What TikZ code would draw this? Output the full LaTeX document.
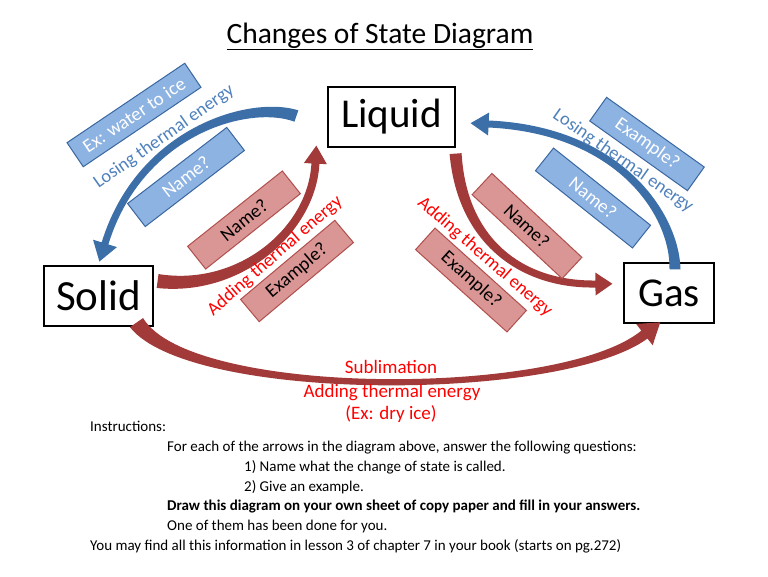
\documentclass[tikz,border=0pt]{standalone}
\usepackage{fontspec}
\setmainfont{Carlito}
\usetikzlibrary{arrows.meta,calc}
\definecolor{bluefill}{HTML}{8DB3E2}
\definecolor{bluebord}{HTML}{3A67A0}
\definecolor{bluetxt}{HTML}{4F81BD}
\definecolor{bluearr}{HTML}{3C6EA8}
\definecolor{redfill}{HTML}{D99694}
\definecolor{redbord}{HTML}{B04F4C}
\definecolor{redarr}{HTML}{A33A3A}
\definecolor{redtxt}{HTML}{FF0000}
\tikzset{
  statebox/.style={draw=black, line width=1.2pt, fill=white, inner sep=0pt, minimum height=60pt, font=\fontsize{41}{44}\selectfont},
  tagbox/.style={line width=1pt, inner sep=0pt, minimum height=29pt, minimum width=123pt, font=\fontsize{19}{20}\selectfont},
  bluebox/.style={tagbox, draw=bluebord, fill=bluefill, text=white},
  redbox/.style={tagbox, draw=redbord, fill=redfill, text=black},
  bluelbl/.style={text=bluetxt, inner sep=0pt, font=\fontsize{18.5}{20}\selectfont},
  redlbl/.style={text=redtxt, inner sep=0pt, font=\fontsize{18.5}{20}\selectfont},
  instr/.style={anchor=base west, inner sep=0pt, font=\fontsize{15}{16}\selectfont},
}
% tapered curved arrow: #1..#4 bezier points (P3 = base of head),
% #5,#6,#7 widths at P0,P1,P2, #8 = width at P3/head width/head length, #9 colour
\def\splitthree#1/#2/#3\relax{\def\tw{#1}\def\hw{#2}\def\hl{#3}}
\newcommand\taperarrow[9]{%
  \splitthree#8\relax
  \pgfmathsetmacro\twa{#5/2}\pgfmathsetmacro\twb{#6/2}\pgfmathsetmacro\twc{#7/2}%
  \pgfmathsetmacro\twd{\tw/2}\pgfmathsetmacro\twh{\hw/2}%
  \coordinate (tq1) at ($(#2)+(#3)-(#1)$);
  \coordinate (tq2) at ($(#3)+(#4)-(#2)$);
  \coordinate (ta) at ($(#1)!\twa pt!90:(#2)$);
  \coordinate (tA) at ($(#1)!\twa pt!-90:(#2)$);
  \coordinate (tb) at ($(#2)!\twb pt!90:(tq1)$);
  \coordinate (tB) at ($(#2)!\twb pt!-90:(tq1)$);
  \coordinate (tc) at ($(#3)!\twc pt!90:(tq2)$);
  \coordinate (tC) at ($(#3)!\twc pt!-90:(tq2)$);
  \coordinate (td) at ($(#4)!\twd pt!-90:(#3)$);
  \coordinate (tD) at ($(#4)!\twd pt!90:(#3)$);
  \coordinate (th) at ($(#4)!\twh pt!-90:(#3)$);
  \coordinate (tH) at ($(#4)!\twh pt!90:(#3)$);
  \coordinate (tt) at ($(#4)!-\hl pt!(#3)$);
  \fill[#9] (ta) .. controls (tb) and (tc) .. (td) -- (th) -- (tt) -- (tH) -- (tD)
     .. controls (tC) and (tB) .. (tA) -- cycle;
}
\begin{document}
\begin{tikzpicture}[x=1pt,y=-1pt]
\useasboundingbox[fill=white] (0,0) rectangle (768,576);

% title
\node[anchor=base, inner sep=0pt, font=\fontsize{29.5}{32}\selectfont] (title) at (380,43) {\underline{Changes of State Diagram}};

% state boxes
\node[statebox, minimum width=127pt] (liquid) at (391.5,117) {Liquid};
\node[statebox, minimum width=109pt, font=\fontsize{43}{46}\selectfont] (solid) at (98.5,296) {Solid};
\node[statebox, minimum width=90pt] (gas) at (669,293) {Gas};

% connector end points (tails and heads)
\coordinate (bls) at ($(liquid.west)+(-31,-1)$);
\coordinate (ble) at ($(solid.north)+(6.5,-22)$);
\coordinate (rls) at ($(solid.east)+(4,-15)$);
\coordinate (rle) at ($(liquid.south west)+(-12,16)$);
\coordinate (rrs) at ($(liquid.south east)+(0,6)$);
\coordinate (rre) at ($(gas.west)+(-28,-9)$);
\coordinate (brs) at ($(gas.north)+(6,7)$);
\coordinate (bre) at ($(liquid.east)+(33,7)$);
\coordinate (sbs) at ($(solid.south)+(38,-4)$);
\coordinate (sbe) at ($(gas.south west)+(21,11)$);
% control points
\coordinate (c1a) at (250,100); \coordinate (c1b) at (140,130);
\coordinate (c2a) at (240,292); \coordinate (c2b) at (312,230);
\coordinate (c3a) at (462,240); \coordinate (c3b) at (520,285);
\coordinate (c4a) at (675,215); \coordinate (c4b) at (620,130);
\coordinate (c5a) at (190,400); \coordinate (c5b) at (560,400);

% arrows
\taperarrow{bls}{c1a}{c1b}{ble}{12}{10}{8}{7/25/19}{bluearr}
\taperarrow{rls}{c2a}{c2b}{rle}{14}{11}{9}{8/23/18}{redarr}
\taperarrow{rrs}{c3a}{c3b}{rre}{12}{10}{8}{7/23/17}{redarr}
\taperarrow{brs}{c4a}{c4b}{bre}{11}{9}{8}{7/23/18}{bluearr}
\taperarrow{sbs}{c5a}{c5b}{sbe}{16}{6}{5}{10/27/20}{redarr}

% left side tags
\node[bluebox, rotate=34, minimum width=142pt] (exwater) at (134,115) {Ex: water to ice};
\node[bluelbl, rotate=35] (loseL) at (164,137) {Losing thermal energy};
\node[bluebox, rotate=37.5, minimum width=125pt] (nameBL) at (186,177) {Name?};
\node[redbox, rotate=38.5, minimum width=121pt] (nameRL) at (244,220) {Name?};
\node[redlbl, rotate=41] (addL) at (275,256) {Adding thermal energy};
\node[redbox, rotate=40, minimum width=123pt] (exRL) at (297,271) {Example?};

% right side tags
\node[bluebox, rotate=-35.5, minimum width=120pt] (exBR) at (647,144) {Example?};
\node[bluelbl, rotate=-35] (loseR) at (623,161) {Losing thermal energy};
\node[bluebox, rotate=-38.5, minimum width=124pt] (nameBR) at (593,198) {Name?};
\node[redbox, rotate=-43, minimum width=123pt] (nameRR) at (527,226) {Name?};
\node[redlbl, rotate=-41] (addR) at (485,257) {Adding thermal energy};
\node[redbox, rotate=-42, minimum width=123pt] (exRR) at (471,280) {Example?};

% sublimation
\node[redlbl, anchor=base, font=\fontsize{19}{20}\selectfont] (sub1) at (391,373) {Sublimation};
\node[redlbl, anchor=base, font=\fontsize{19}{20}\selectfont] (sub2) at (392,397) {Adding thermal energy};
\node[redlbl, anchor=base, font=\fontsize{19}{20}\selectfont] (sub3) at (391,419) {(Ex: dry ice)};

% instructions
\node[instr] (i1) at (90,431) {Instructions:};
\node[instr] (i2) at (167,451) {For each of the arrows in the diagram above, answer the following questions:};
\node[instr] (i3) at (244,471) {1) Name what the change of state is called.};
\node[instr] (i4) at (244,491) {2) Give an example.};
\node[instr, font=\fontsize{15}{16}\selectfont\bfseries] (i5) at (167,510) {Draw this diagram on your own sheet of copy paper and fill in your answers.};
\node[instr] (i6) at (167,530) {One of them has been done for you.};
\node[instr] (i7) at (90,550) {You may find all this information in lesson 3 of chapter 7 in your book (starts on pg.272)};
\end{tikzpicture}
\end{document}
